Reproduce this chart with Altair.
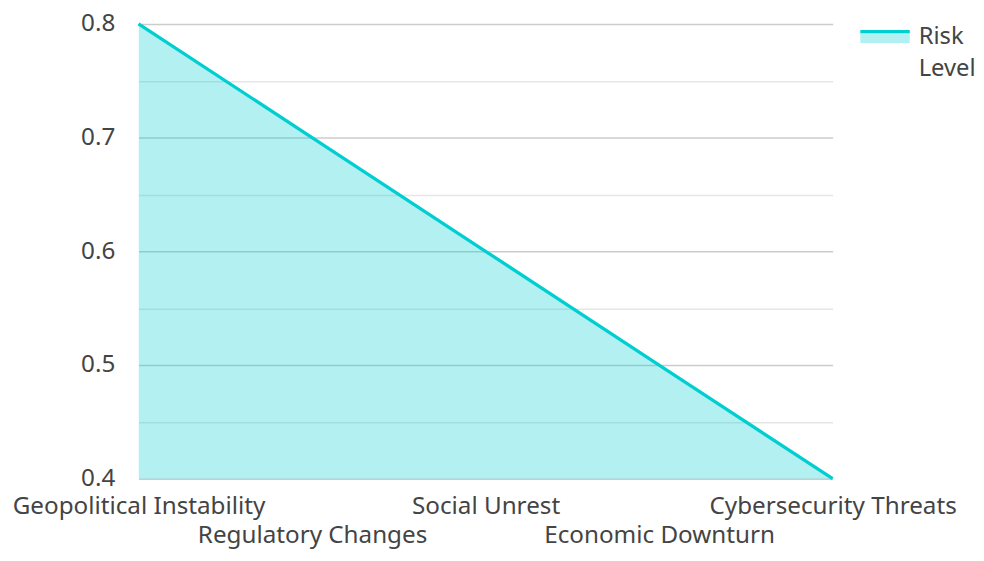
import json
import altair as alt
import pandas as pd

categories = ["Geopolitical Instability", "Regulatory Changes", "Social Unrest",
              "Economic Downturn", "Cybersecurity Threats"]
risk_values = [0.8, 0.7, 0.6, 0.5, 0.4]
series_name = "Risk Level"
y_ticks = [0.4, 0.45, 0.5, 0.55, 0.6, 0.65, 0.7, 0.75, 0.8]

df = pd.DataFrame({"category": categories, "value": risk_values, "series": series_name})

COLOR = "#00CED1"
FONT = "Noto Sans"
TXT = "#444444"
FS = 24.5

staggered = json.dumps(categories[1::2])
second_row = f"indexof({staggered}, datum.value) >= 0"

x_enc = alt.X(
    "category:N", sort=categories, title=None,
    scale=alt.Scale(type="point", padding=0),
    axis=alt.Axis(labelAngle=0, domain=False, ticks=False, grid=False,
                  labelFontSize=FS, labelFont=FONT, labelColor=TXT, labelLimit=1000,
                  labelLineHeight=FS, labelBaseline="top",
                  labelPadding={"condition": {"test": second_row, "value": 45}, "value": 16},
                  labelOverlap=False, labelBound=False, labelFlush=False),
)
y_enc = alt.Y(
    "value:Q", title=None,
    scale=alt.Scale(domain=[0.4, 0.8], nice=False, zero=False),
    axis=alt.Axis(values=y_ticks, domain=False, ticks=False,
                  labelExpr="round(datum.value*20) % 2 == 0 ? format(datum.value, '.1f') : ''",
                  labelFontSize=FS, labelFont=FONT, labelColor=TXT, labelPadding=24,
                  labelLineHeight=FS,
                  gridColor={"condition": {"test": "round(datum.value*20) % 2 == 0", "value": "#cccccc"},
                             "value": "#e6e6e6"},
                  gridWidth=1.5),
)

legend_common = dict(
    title=None, orient="none", legendX=743, legendY=-11, padding=0,
    labelFontSize=24, labelFont=FONT, labelColor=TXT, labelLimit=1000,
    labelBaseline="top", symbolSize=400, labelOffset=22,
)

area = alt.Chart(df).mark_area(opacity=0.3, clip=True).encode(
    x=x_enc, y=y_enc,
    fill=alt.Fill("series:N", scale=alt.Scale(range=[COLOR]),
                  legend=alt.Legend(symbolType="M-2.5,0.84 L2.5,0.84 L2.5,1.84 L-2.5,1.84 Z",
                                    symbolOpacity=0.3, symbolStrokeWidth=0,
                                    labelExpr="''", **legend_common)),
)
line = alt.Chart(df).mark_line(strokeWidth=3.3).encode(
    x=x_enc, y=y_enc,
    stroke=alt.Stroke("series:N", scale=alt.Scale(range=[COLOR]),
                      legend=alt.Legend(symbolType="M-2.5,0.68 L2.5,0.68",
                                        labelExpr="split(datum.label, ' ')",
                                        symbolStrokeWidth=3.3, **legend_common)),
)

chart = alt.layer(area, line).properties(
    width=702, height=460,
    padding={"left": 4, "top": 0, "right": 0, "bottom": 0},
).configure(
    style={"guide-label": {"lineHeight": 33}}
).configure_view(stroke=None)

chart.save("out.html", embed_options={"renderer": "svg", "actions": False})
